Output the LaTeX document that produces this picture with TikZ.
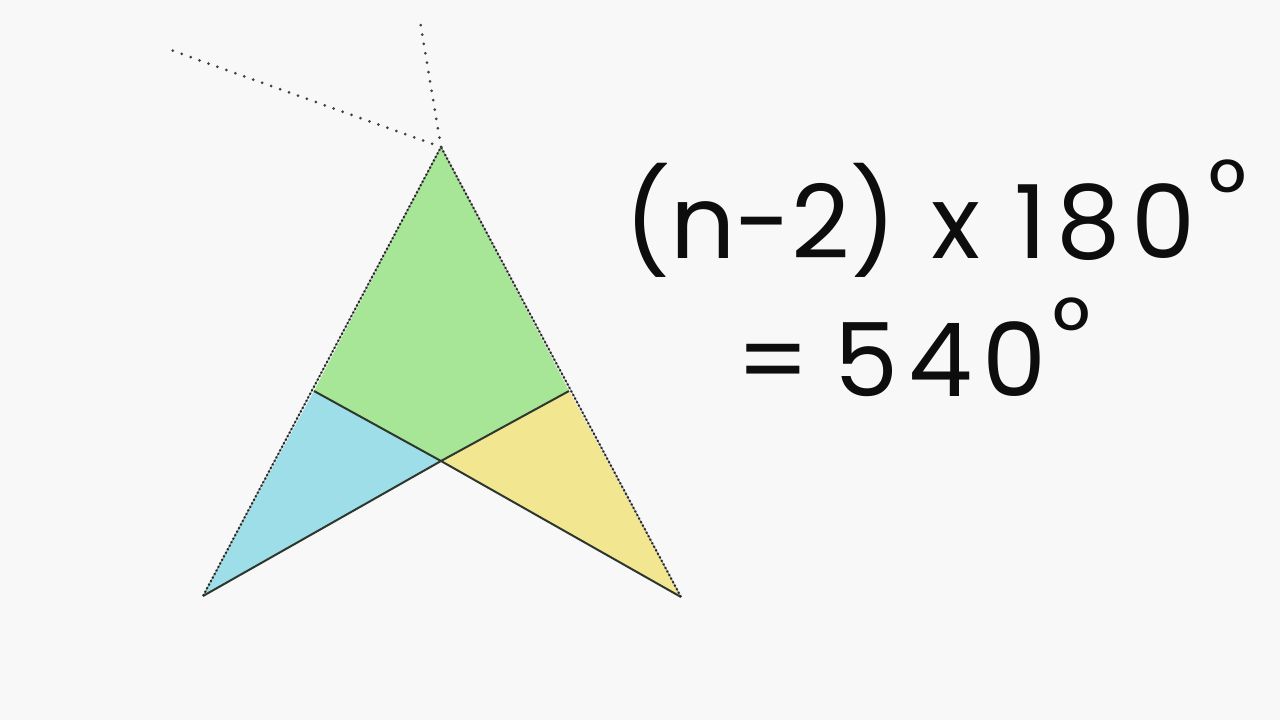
\documentclass[tikz,border=0pt]{standalone}
\usepackage{fontspec}
\setmainfont{Poppins}
\definecolor{bg}{RGB}{248,248,248}
\definecolor{fgreen}{RGB}{166,230,150}
\definecolor{fblue}{RGB}{158,222,232}
\definecolor{fyellow}{RGB}{242,230,145}
\definecolor{edge}{RGB}{45,55,45}
\begin{document}
\begin{tikzpicture}[x=1pt,y=-1pt,
  inner/.style={draw=edge,line width=2pt},
  outer/.style={draw=edge!60,line width=0.8pt},
  edgedots/.style={draw=black!85,line width=2pt,dash pattern=on 1.8pt off 2.2pt},
  dots/.style={draw=black!75,line width=3pt,dash pattern=on 0pt off 9.5pt,line cap=round},
  eq/.style={inner sep=0pt,font=\fontsize{102}{120}\selectfont,text=black!95},
  digits/.style={eq,font=\fontsize{102}{120}\selectfont\addfontfeatures{LetterSpace=10}},
  deg/.style={inner sep=0pt,font=\fontsize{94}{100}\selectfont,text=black!95}]
\fill[bg] (0,0) rectangle (1280,720);
\useasboundingbox (0,0) rectangle (1280,720);
\coordinate (T) at (441,147);
\coordinate (L) at (314,391);
\coordinate (R) at (569,391);
\coordinate (C) at (441,461);
\coordinate (BL) at (203,596);
\coordinate (BR) at (681,597);
\coordinate (E1) at (168,49);
\coordinate (E2) at (420,21);
\fill[fgreen] (T) -- (L) -- (C) -- (R) -- cycle;
\fill[fblue] (L) -- (BL) -- (C) -- cycle;
\fill[fyellow] (R) -- (C) -- (BR) -- cycle;
\draw[inner] (L) -- (C) -- (R);
\draw[inner] (BL) -- (C) -- (BR);
\draw[outer] (BL) -- (T) -- (BR);
\draw[edgedots] (BL) -- (T);
\draw[edgedots] (BR) -- (T);
\draw[dots] (T) -- (E1);
\draw[dots] (T) -- (E2);
\node[eq,anchor=base west] (l1) at (624,258) {(n-2)};
\node[eq,anchor=base west] (lx) at (931,258) {x};
\node[digits,anchor=base west] (l180) at (1014,258) {180};
\node[deg,anchor=base west] (d1) at (1208,225) {°};
\node[eq,anchor=base west] (leq) at (736,396) {=};
\node[digits,anchor=base west] (l540) at (834,396) {540};
\node[deg,anchor=base west] (d2) at (1052,363) {°};
\end{tikzpicture}
\end{document}
